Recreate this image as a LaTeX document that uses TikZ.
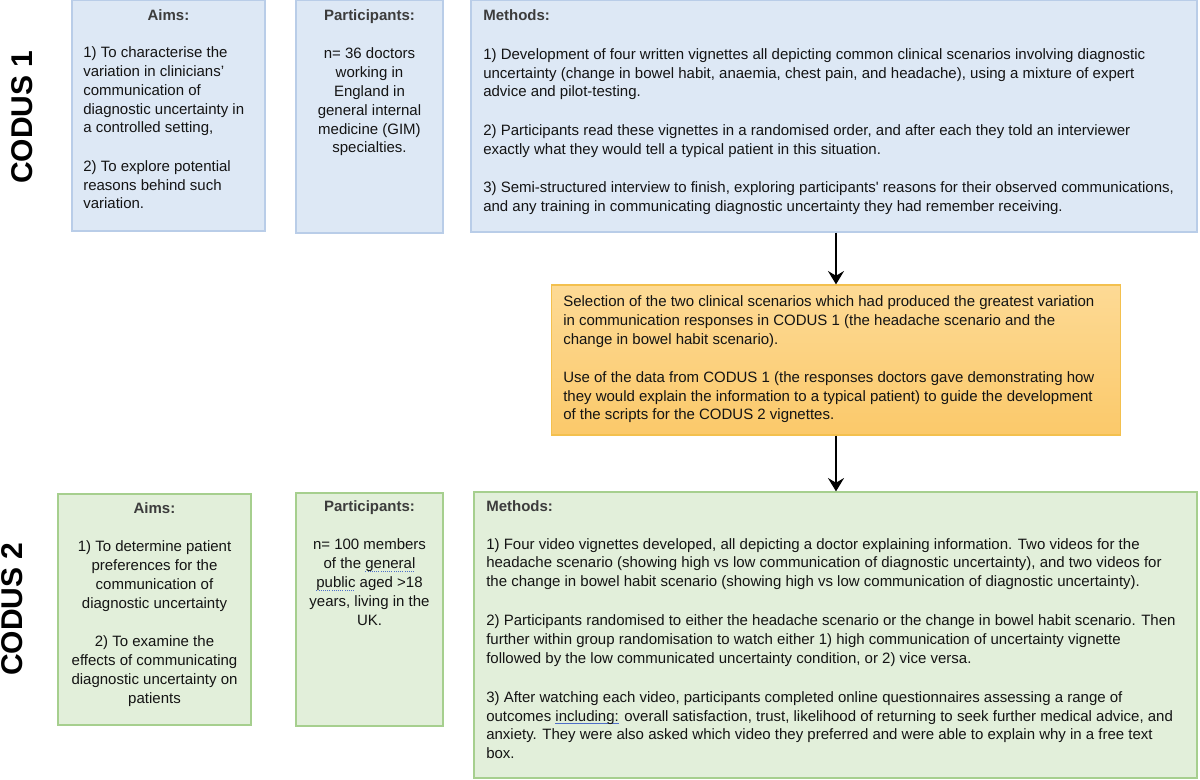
\documentclass[tikz,border=0pt]{standalone}
\usepackage{fontspec}
\setmainfont{Liberation Sans}
\usetikzlibrary{arrows.meta,fit}
\definecolor{bfill}{HTML}{DDE8F5}
\definecolor{bline}{HTML}{B9CDE8}
\definecolor{gfill}{HTML}{E2EFDA}
\definecolor{gline}{HTML}{A6CF8E}
\definecolor{otop}{HTML}{FDDA95}
\definecolor{obot}{HTML}{FBC96A}
\definecolor{oline}{HTML}{F3C04E}
\definecolor{headc}{HTML}{3C3C3C}
\definecolor{bodyc}{HTML}{141414}
\definecolor{gramc}{HTML}{4F6FC8}
\newsavebox\grambox
\newcommand\dotgram[1]{\sbox\grambox{#1}\rlap{\textcolor{gramc}{\raisebox{-2.6pt}{\hbox to \wd\grambox{\xleaders\hbox{\rule{0.7pt}{0.7pt}\hspace{0.9pt}}\hfill}}}}#1}
\newcommand\gramline[1]{\sbox\grambox{#1}\rlap{\textcolor{gramc}{\rule[-2.2pt]{\wd\grambox}{0.7pt}}}#1}
\begin{document}
\begin{tikzpicture}[x=0.75pt,y=-0.75pt,
  bluebox/.style={draw=bline, fill=bfill, line width=0.8pt, inner sep=0pt},
  greenbox/.style={draw=gline, fill=gfill, line width=0.9pt, inner sep=0pt},
  orangebox/.style={draw=oline, top color=otop, bottom color=obot, line width=0.9pt, inner sep=0pt},
  txt/.style={inner sep=0pt, text=bodyc, font=\fontsize{11.25pt}{14.1pt}\selectfont},
  head/.style={inner sep=0pt, text=headc, font=\fontsize{11.25pt}{14.1pt}\selectfont\bfseries},
  codus/.style={rotate=90, inner sep=0pt, text=black, font=\fontsize{22.5pt}{27pt}\selectfont\bfseries},
  arr/.style={line width=2.2pt, -{Stealth[length=10pt,width=12pt,inset=3.5pt]}}
]
\useasboundingbox (0,0) rectangle (1200,780);

% ---------- CODUS 1 ----------
\node[codus] (c1) at (22,117) {CODUS 1};

\node[bluebox, fit={(72,0)(265,231)}] (a1) {};
\node[head, anchor=north] (a1h) at (168.5,9) {Aims:};
\node[txt, anchor=north west, align=left] (a1t) at (83,46.5) {1) To characterise the\\
variation in clinicians’\\
communication of\\
diagnostic uncertainty in\\
a controlled setting,\\[14.8pt]
2) To explore potential\\
reasons behind such\\
variation.};

\node[bluebox, fit={(296,0)(443,233)}] (p1) {};
\node[txt, anchor=north, align=center] (p1t) at (369.5,9) {{\bfseries\color{headc}Participants:}\\[15pt]
n= 36 doctors\\
working in\\
England in\\
general internal\\
medicine (GIM)\\
specialties.};

\node[bluebox, fit={(471,0)(1197,232)}] (m1) {};
\node[txt, anchor=north west, align=left] (m1t) at (483,9) {{\bfseries\color{headc}Methods:}\\[15.3pt]
1) Development of four written vignettes all depicting common clinical scenarios involving diagnostic\\
uncertainty (change in bowel habit, anaemia, chest pain, and headache), using a mixture of expert\\
advice and pilot-testing.\\[14.6pt]
2) Participants read these vignettes in a randomised order, and after each they told an interviewer\\
exactly what they would tell a typical patient in this situation.\\[14.6pt]
3) Semi-structured interview to finish, exploring participants\textquotesingle{} reasons for their observed communications,\\
and any training in communicating diagnostic uncertainty they had remember receiving.};

% ---------- middle ----------
\node[orangebox, fit={(551.5,285)(1120.5,435)}] (or) {};
\node[txt, anchor=north west, align=left] (ort) at (563,295.5) {Selection of the two clinical scenarios which had produced the greatest variation\\
in communication responses in CODUS 1 (the headache scenario and the\\
change in bowel habit scenario).\\[14.5pt]
Use of the data from CODUS 1 (the responses doctors gave demonstrating how\\
they would explain the information to a typical patient) to guide the development\\
of the scripts for the CODUS 2 vignettes.};

% ---------- CODUS 2 ----------
\node[codus] (c2) at (12.5,609) {CODUS 2};

\node[greenbox, fit={(58,494)(251,725)}] (a2) {};
\node[txt, anchor=north, align=center] (a2t) at (154.5,502) {{\bfseries\color{headc}Aims:}\\[15pt]
1) To determine patient\\
preferences for the\\
communication of\\
diagnostic uncertainty\\[14.8pt]
2) To examine the\\
effects of communicating\\
diagnostic uncertainty on\\
patients};

\node[greenbox, fit={(296,493)(443,726)}] (p2) {};
\node[txt, anchor=north, align=center] (p2t) at (369.5,500) {{\bfseries\color{headc}Participants:}\\[15pt]
n= 100 members\\
of the \dotgram{general}\\
\dotgram{public} aged >18\\
years, living in the\\
UK.};

\node[greenbox, fit={(474,492)(1197,778)}] (m2) {};
\node[txt, anchor=north west, align=left] (m2t) at (486,500) {{\bfseries\color{headc}Methods:}\\[14.3pt]
1) Four video vignettes developed, all depicting a doctor explaining information. Two videos for the\\
headache scenario (showing high vs low communication of diagnostic uncertainty), and two videos for\\
the change in bowel habit scenario (showing high vs low communication of diagnostic uncertainty).\\[15.2pt]
2) Participants randomised to either the headache scenario or the change in bowel habit scenario. Then\\
further within group randomisation to watch either 1) high communication of uncertainty vignette\\
followed by the low communicated uncertainty condition, or 2) vice versa.\\[15.2pt]
3) After watching each video, participants completed online questionnaires assessing a range of\\
outcomes \gramline{including:} overall satisfaction, trust, likelihood of returning to seek further medical advice, and\\
anxiety. They were also asked which video they preferred and were able to explain why in a free text\\
box.};

% ---------- arrows ----------
\draw[arr] (m1.south -| or.north) -- (or.north);
\draw[arr] (or.south) -- (or.south |- m2.north);
\end{tikzpicture}
\end{document}
